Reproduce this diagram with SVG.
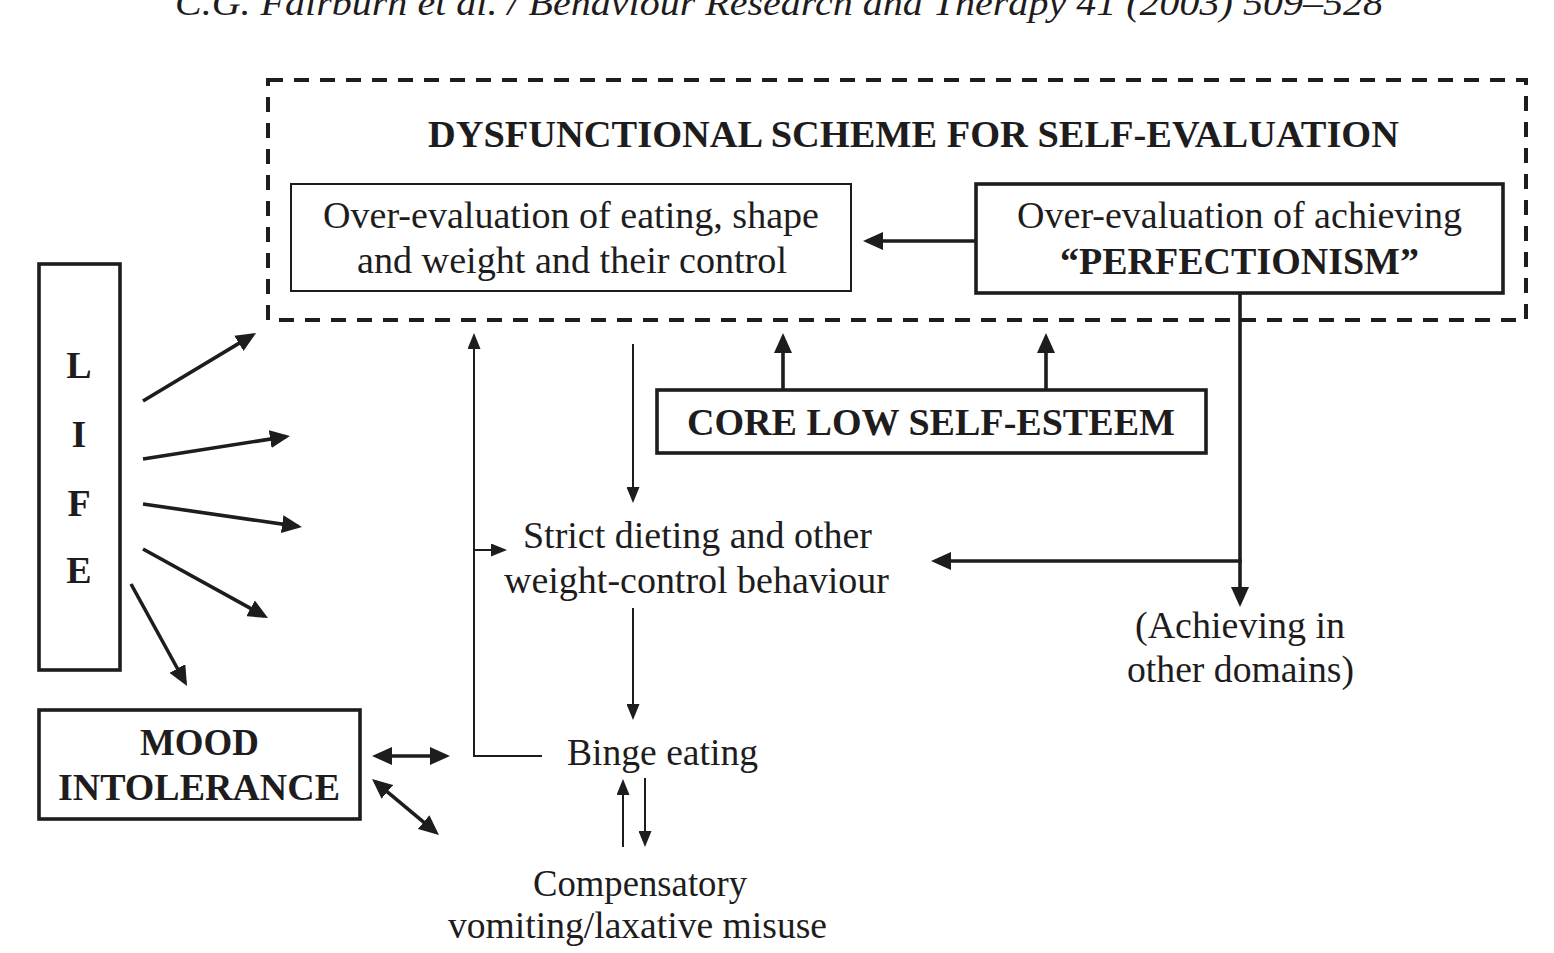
<svg xmlns="http://www.w3.org/2000/svg" width="1554" height="953" viewBox="0 0 1554 953">
<defs>
<style>
text{font-family:"Liberation Serif","Times New Roman",serif;fill:#1e1c1d;}
.t{font-size:38px;}
.b{font-size:38px;font-weight:bold;}
.hdr{font-size:36px;font-style:italic;}
.box{fill:none;stroke:#1e1c1d;}
.thin{stroke-width:2;}
.thick{stroke-width:3.6;}
.dash{fill:none;stroke:#1e1c1d;stroke-width:4;stroke-dasharray:15 11;}
.ct{fill:none;stroke:#1e1c1d;stroke-width:3.6;}
.cn{fill:none;stroke:#1e1c1d;stroke-width:2;}
.ah{marker-end:url(#mk);}
.ahs{marker-start:url(#mk);marker-end:url(#mk);}
.an{marker-end:url(#mn);}
</style>
<marker id="mk" markerUnits="userSpaceOnUse" markerWidth="20" markerHeight="18" viewBox="0 0 20 18" refX="16" refY="9" orient="auto-start-reverse">
<path d="M0,0 L20,9 L0,18 z" fill="#1e1c1d"/>
</marker>
<marker id="mn" markerUnits="userSpaceOnUse" markerWidth="16" markerHeight="13" viewBox="0 0 16 13" refX="13" refY="6.5" orient="auto">
<path d="M0,0 L16,6.5 L0,13 z" fill="#1e1c1d"/>
</marker>
</defs>
<rect width="1554" height="953" fill="#ffffff"/>

<text class="hdr" x="175" y="15" textLength="1208" lengthAdjust="spacingAndGlyphs">C.G. Fairburn et al. / Behaviour Research and Therapy 41 (2003) 509–528</text>

<g id="scheme">
<rect class="dash" x="268" y="80" width="1258" height="240"/>
<text class="b" x="428" y="147" textLength="971" lengthAdjust="spacingAndGlyphs">DYSFUNCTIONAL SCHEME FOR SELF-EVALUATION</text>
</g>

<g id="overeval-eating">
<rect class="box thin" x="291" y="184" width="560" height="107"/>
<text class="t" x="323" y="228" textLength="496" lengthAdjust="spacingAndGlyphs">Over-evaluation of eating, shape</text>
<text class="t" x="357" y="273" textLength="430" lengthAdjust="spacingAndGlyphs">and weight and their control</text>
</g>

<g id="overeval-achieving">
<rect class="box thick" x="976" y="184" width="527" height="109"/>
<text class="t" x="1017" y="228" textLength="445" lengthAdjust="spacingAndGlyphs">Over-evaluation of achieving</text>
<text class="b" x="1060" y="274" textLength="359" lengthAdjust="spacingAndGlyphs">“PERFECTIONISM”</text>
</g>

<g id="core">
<rect class="box thick" x="657" y="390" width="549" height="63"/>
<text class="b" x="687" y="435" textLength="488" lengthAdjust="spacingAndGlyphs">CORE LOW SELF-ESTEEM</text>
</g>

<g id="life">
<rect class="box thick" x="39" y="264" width="81" height="406"/>
<text class="b" x="79" y="378" text-anchor="middle">L</text>
<text class="b" x="79" y="447" text-anchor="middle">I</text>
<text class="b" x="79" y="516" text-anchor="middle">F</text>
<text class="b" x="79" y="583" text-anchor="middle">E</text>
</g>

<g id="mood">
<rect class="box thick" x="39" y="710" width="321" height="109"/>
<text class="b" x="140" y="755" textLength="119" lengthAdjust="spacingAndGlyphs">MOOD</text>
<text class="b" x="58" y="800" textLength="282" lengthAdjust="spacingAndGlyphs">INTOLERANCE</text>
</g>

<g id="dieting">
<text class="t" x="523" y="548" textLength="349" lengthAdjust="spacingAndGlyphs">Strict dieting and other</text>
<text class="t" x="504" y="593" textLength="385" lengthAdjust="spacingAndGlyphs">weight-control behaviour</text>
</g>

<g id="achieving-other">
<text class="t" x="1135" y="638" textLength="210" lengthAdjust="spacingAndGlyphs">(Achieving in</text>
<text class="t" x="1127" y="682" textLength="227" lengthAdjust="spacingAndGlyphs">other domains)</text>
</g>

<g id="binge">
<text class="t" x="567" y="765" textLength="191" lengthAdjust="spacingAndGlyphs">Binge eating</text>
</g>

<g id="compensatory">
<text class="t" x="533" y="896" textLength="214" lengthAdjust="spacingAndGlyphs">Compensatory</text>
<text class="t" x="448" y="938" textLength="379" lengthAdjust="spacingAndGlyphs">vomiting/laxative misuse</text>
</g>

<g id="connectors">
<line class="ct ah" x1="976" y1="241" x2="867" y2="241"/>
<line class="ct ah" x1="783" y1="390" x2="783" y2="337"/>
<line class="ct ah" x1="1046" y1="390" x2="1046" y2="337"/>
<line class="ct ah" x1="1240" y1="293" x2="1240" y2="603"/>
<line class="ct ah" x1="1241.8" y1="561" x2="935" y2="561"/>
<line class="cn an" x1="633" y1="344" x2="633" y2="500"/>
<line class="cn an" x1="633" y1="608" x2="633" y2="717"/>
<polyline class="cn an" points="542,756 474,756 474,336"/>
<line class="cn an" x1="474" y1="550" x2="504" y2="550"/>
<line class="cn an" x1="623" y1="847" x2="623" y2="782"/>
<line class="cn an" x1="645" y1="778" x2="645" y2="844"/>
<line class="ct ah" x1="143" y1="401" x2="252.6" y2="335.1"/>
<line class="ct ah" x1="143" y1="459" x2="286.0" y2="436.6"/>
<line class="ct ah" x1="143" y1="504" x2="298.0" y2="526.4"/>
<line class="ct ah" x1="143" y1="549" x2="264.5" y2="616.1"/>
<line class="ct ah" x1="131" y1="584" x2="185.1" y2="682.5"/>
<line class="ct ahs" x1="376" y1="756" x2="446" y2="756"/>
<line class="ct ahs" x1="375.1" y1="781.6" x2="435.9" y2="832.4"/>
</g>
</svg>
